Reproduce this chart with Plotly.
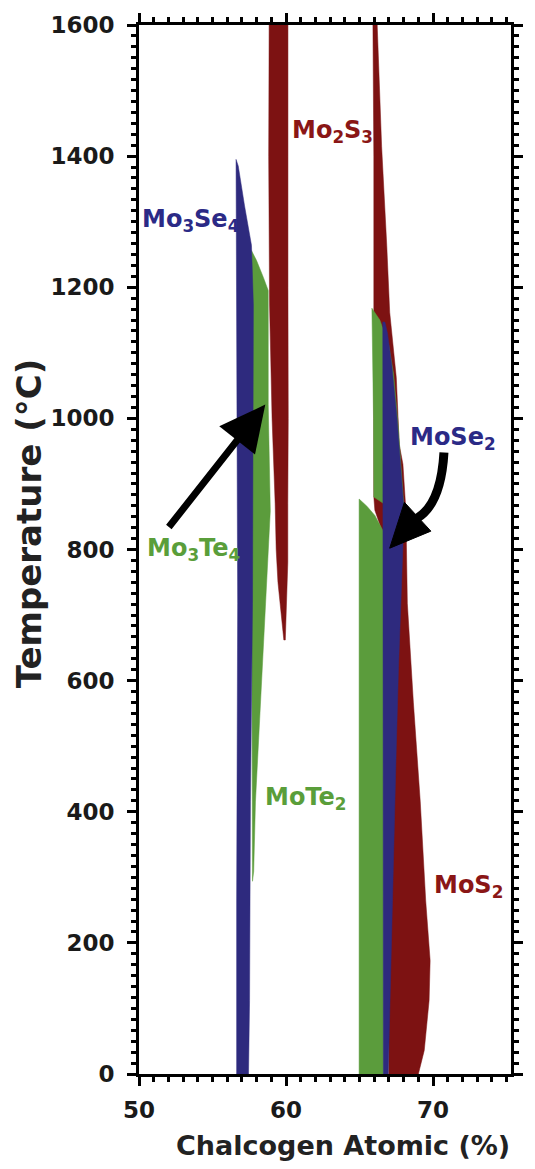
import plotly.graph_objects as go

# ---------------- data ----------------
# Mo2S3 (red, ~60 at.%)
mo2s3_x = [58.85, 58.82, 58.88, 59.05, 59.26, 59.33, 59.45, 59.60, 59.78, 59.85,
           59.95, 60.00, 60.05, 60.12, 60.12, 60.15, 60.13, 60.13]
mo2s3_y = [1600, 1400, 1173, 1000, 870, 800, 750, 718, 680, 662,
           662, 690, 720, 780, 870, 1000, 1200, 1600]

# Mo3Te4 (green, left)
mo3te4_x = [57.65, 57.65, 57.72, 57.80, 57.92, 58.25, 58.59, 58.79, 58.93, 58.79, 58.79, 58.46, 57.99]
mo3te4_y = [1256, 870, 294, 309, 415, 567, 718, 794, 859, 1021, 1195, 1215, 1241]

# Mo3Se4 (blue, left)
mo3se4_x = [56.60, 56.64, 56.71, 56.64, 56.64, 57.45, 57.52, 57.58, 57.72, 57.78, 57.65, 57.18, 56.75]
mo3se4_y = [1395, 1173, 718, 264, 0, 0, 112, 415, 718, 1173, 1264, 1324, 1385]

# MoS2 (red, right)
mos2_x = [65.91, 65.97, 65.97, 65.97, 65.97, 66.04, 66.50, 66.71, 66.85, 66.91, 66.98, 66.98,
          69.00, 69.40, 69.73, 69.80, 69.50, 69.13, 68.66, 68.25, 68.15, 67.95, 67.70, 67.50,
          67.05, 66.85, 66.50, 66.20]
mos2_y = [1600, 1400, 1173, 1000, 880, 860, 830, 809, 718, 567, 264, 0,
          0, 36, 112, 173, 264, 415, 567, 718, 860, 930, 960, 1062,
          1162, 1264, 1415, 1600]

# MoTe2 (green, right) upper and lower parts
mote2_up_x = [65.84, 66.38, 66.98, 67.32, 67.62, 67.88, 68.00, 67.92, 67.00, 66.64, 65.97, 65.95]
mote2_up_y = [1168, 1150, 1112, 1067, 991, 915, 870, 836, 830, 870, 880, 1000]
mote2_lo_x = [64.97, 65.50, 66.04, 66.64, 66.64, 64.97]
mote2_lo_y = [877, 866, 852, 827, 0, 0]

# MoSe2 (blue, right)
mose2_x = [66.58, 66.58, 66.62, 66.62, 66.62, 66.62,
           66.95, 67.10, 67.30, 67.50, 67.65, 67.85, 67.99, 67.99, 67.80, 67.55, 67.20, 66.90, 66.72]
mose2_y = [1147, 1021, 870, 718, 415, 0,
           0, 150, 300, 500, 620, 760, 830, 870, 930, 1000, 1080, 1130, 1147]

x_ticks = [50, 60, 70]
y_ticks = [0, 200, 400, 600, 800, 1000, 1200, 1400, 1600]

RED = "#7d1212"
BLUE = "#2e2a7e"
GREEN = "#5b9c3c"
RED_T = "#8a1616"
BLUE_T = "#2b2a86"
GREEN_T = "#5a9e3a"

fig = go.Figure()

def poly(xs, ys, color):
    fig.add_trace(go.Scatter(x=xs + xs[:1], y=ys + ys[:1], mode="lines", fill="toself",
                             fillcolor=color, line=dict(color=color, width=0.5),
                             hoverinfo="skip", showlegend=False))

poly(mo2s3_x, mo2s3_y, RED)
poly(mo3te4_x, mo3te4_y, GREEN)
poly(mo3se4_x, mo3se4_y, BLUE)
poly(mos2_x, mos2_y, RED)
poly(mote2_up_x, mote2_up_y, GREEN)
poly(mote2_lo_x, mote2_lo_y, GREEN)
poly(mose2_x, mose2_y, BLUE)

LBL = "DejaVu Sans"
labels = [
    ("Mo<sub>2</sub>S<sub>3</sub>", 60.27, 1438, RED_T),
    ("Mo<sub>3</sub>Se<sub>4</sub>", 50.10, 1302, BLUE_T),
    ("Mo<sub>3</sub>Te<sub>4</sub>", 50.40, 800, GREEN_T),
    ("MoTe<sub>2</sub>", 58.46, 420, GREEN_T),
    ("MoSe<sub>2</sub>", 68.30, 970, BLUE_T),
    ("MoS<sub>2</sub>", 69.95, 286, RED_T),
]
for t, x, y, c in labels:
    fig.add_annotation(x=x, y=y, text="<b>" + t + "</b>", showarrow=False, xanchor="left",
                       yanchor="middle", font=dict(family=LBL, size=24, color=c))

# straight arrow
fig.add_annotation(x=58.59, y=1021, ax=51.95, ay=832, axref="x", ayref="y", xref="x", yref="y",
                   text="", showarrow=True, arrowhead=2, arrowsize=1.3, arrowwidth=7,
                   arrowcolor="black", standoff=0)
# curved arrow (shaft + head)
fig.add_shape(type="path", xref="x", yref="y",
              path="M 70.74,948 Q 70.54,870 68.93,848",
              line=dict(color="black", width=9))
fig.add_shape(type="path", xref="x", yref="y",
              path="M 69.85,828 L 67.05,802 L 68.05,872 Z",
              fillcolor="black", line=dict(color="black", width=1))

# axis titles
fig.add_annotation(xref="paper", yref="paper", x=0.549, y=-0.068, text="<b>Chalcogen Atomic (%)</b>",
                   showarrow=False, xanchor="center", yanchor="middle",
                   font=dict(family=LBL, size=27, color="#222222"))
fig.add_annotation(xref="paper", yref="paper", x=-0.297, y=0.5246, text="<b>Temperature (°C)</b>",
                   textangle=-90, showarrow=False, xanchor="center", yanchor="middle",
                   font=dict(family=LBL, size=34, color="#222222"))

axis_common = dict(showline=True, linewidth=3, linecolor="black", mirror="allticks",
                   ticks="outside", ticklen=9, tickwidth=3, tickcolor="black",
                   showgrid=False, zeroline=False,
                   tickfont=dict(family=LBL, size=23, color="#1a1a1a", weight="bold"))

fig.update_xaxes(range=[50, 75.3], tickvals=x_ticks, ticktext=[str(v) for v in x_ticks],
                 minor=dict(ticks="outside", dtick=1, tick0=50, ticklen=5, tickwidth=2.5,
                            tickcolor="black", showgrid=False),
                 ticklabelstandoff=4, **axis_common)
fig.update_yaxes(range=[0, 1600], tickvals=y_ticks, ticktext=[str(v) for v in y_ticks],
                 minor=dict(ticks="outside", dtick=200 / 12, tick0=0, ticklen=5, tickwidth=2.5,
                            tickcolor="black", showgrid=False),
                 ticklabelstandoff=8, **axis_common)

fig.update_layout(width=535, height=1169, margin=dict(l=139, r=19, t=18, b=95),
                  plot_bgcolor="white", paper_bgcolor="white", showlegend=False)

fig.write_html("out.html")
